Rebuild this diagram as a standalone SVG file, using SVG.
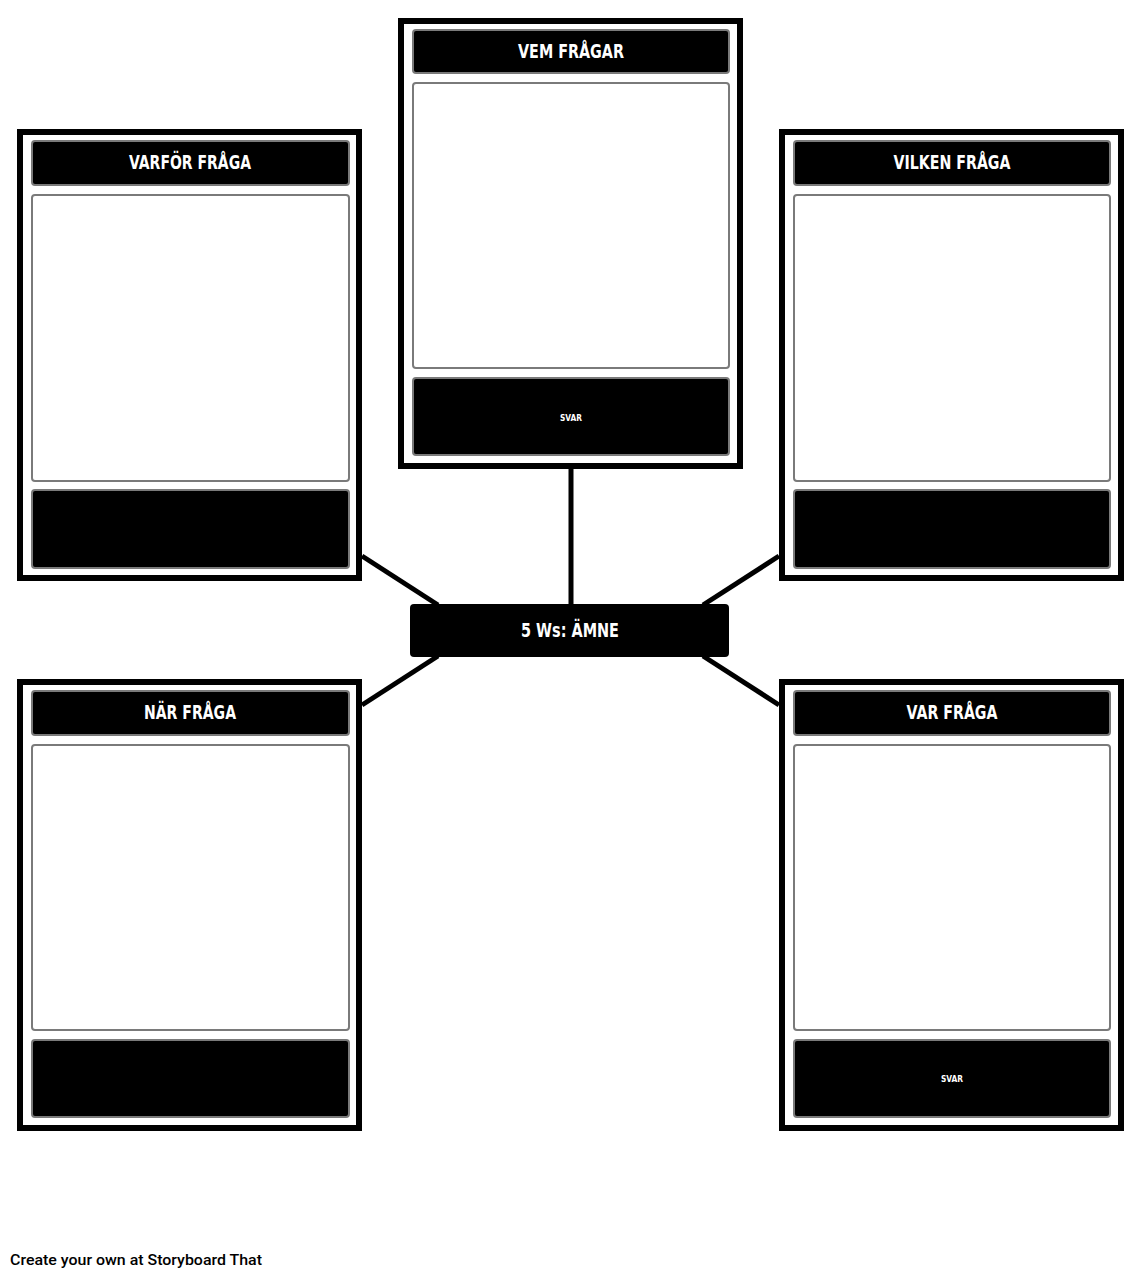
<svg xmlns="http://www.w3.org/2000/svg" width="1143" height="1278" viewBox="0 0 1143 1278">
<style>
.frame{fill:#fff;stroke:#000;stroke-width:6}
.hdr{fill:#000;stroke:#7a7a7a;stroke-width:2}
.box{fill:#fff;stroke:#7a7a7a;stroke-width:2}
.ans{fill:#000;stroke:#7a7a7a;stroke-width:2}
.t{font-family:"DejaVu Sans Condensed","DejaVu Sans",sans-serif;font-weight:bold;fill:#fff;text-anchor:middle;font-size:19px}
.s{font-family:"DejaVu Sans Condensed","DejaVu Sans",sans-serif;font-weight:bold;fill:#fff;text-anchor:middle;font-size:8px}
.c{stroke:#000;stroke-width:5;fill:none}
</style>
<rect width="1143" height="1278" fill="#fff"/>
<g id="connectors">
<line class="c" x1="571" y1="469" x2="571" y2="606"/>
<line class="c" x1="362" y1="556" x2="438" y2="605"/>
<line class="c" x1="362" y1="705" x2="438" y2="656"/>
<line class="c" x1="779" y1="556" x2="703" y2="605"/>
<line class="c" x1="779" y1="705" x2="703" y2="656"/>
</g>
<g id="vem">
<rect class="frame" x="401" y="21" width="339" height="445"/>
<rect class="hdr" x="413" y="30" width="316" height="43" rx="3"/>
<text class="t" x="571" y="58" textLength="106" lengthAdjust="spacingAndGlyphs">VEM FRÅGAR</text>
<rect class="box" x="413" y="83" width="316" height="285" rx="3"/>
<rect class="ans" x="413" y="378" width="316" height="77" rx="3"/>
<text class="s" x="571" y="421" textLength="22" lengthAdjust="spacingAndGlyphs">SVAR</text>
</g>
<g id="varfor">
<rect class="frame" x="20" y="132" width="339" height="446"/>
<rect class="hdr" x="32" y="141" width="317" height="44" rx="3"/>
<text class="t" x="190" y="169" textLength="122" lengthAdjust="spacingAndGlyphs">VARFÖR FRÅGA</text>
<rect class="box" x="32" y="195" width="317" height="286" rx="3"/>
<rect class="ans" x="32" y="490" width="317" height="78" rx="3"/>
</g>
<g id="vilken">
<rect class="frame" x="782" y="132" width="339" height="446"/>
<rect class="hdr" x="794" y="141" width="316" height="44" rx="3"/>
<text class="t" x="952" y="169" textLength="117" lengthAdjust="spacingAndGlyphs">VILKEN FRÅGA</text>
<rect class="box" x="794" y="195" width="316" height="286" rx="3"/>
<rect class="ans" x="794" y="490" width="316" height="78" rx="3"/>
</g>
<g id="nar">
<rect class="frame" x="20" y="682" width="339" height="446"/>
<rect class="hdr" x="32" y="691" width="317" height="44" rx="3"/>
<text class="t" x="190" y="719" textLength="92" lengthAdjust="spacingAndGlyphs">NÄR FRÅGA</text>
<rect class="box" x="32" y="745" width="317" height="285" rx="3"/>
<rect class="ans" x="32" y="1040" width="317" height="77" rx="3"/>
</g>
<g id="var">
<rect class="frame" x="782" y="682" width="339" height="446"/>
<rect class="hdr" x="794" y="691" width="316" height="44" rx="3"/>
<text class="t" x="952" y="719" textLength="91" lengthAdjust="spacingAndGlyphs">VAR FRÅGA</text>
<rect class="box" x="794" y="745" width="316" height="285" rx="3"/>
<rect class="ans" x="794" y="1040" width="316" height="77" rx="3"/>
<text class="s" x="952" y="1082" textLength="22" lengthAdjust="spacingAndGlyphs">SVAR</text>
</g>
<g id="center">
<rect x="410" y="604" width="319" height="53" rx="4" fill="#000"/>
<text class="t" x="570" y="637" textLength="98" lengthAdjust="spacingAndGlyphs">5 Ws: ÄMNE</text>
</g>
<text x="10" y="1265" font-family="Roboto,'Liberation Sans',sans-serif" font-size="15.5" font-weight="500" fill="#000" textLength="252" lengthAdjust="spacingAndGlyphs">Create your own at Storyboard That</text>
</svg>
